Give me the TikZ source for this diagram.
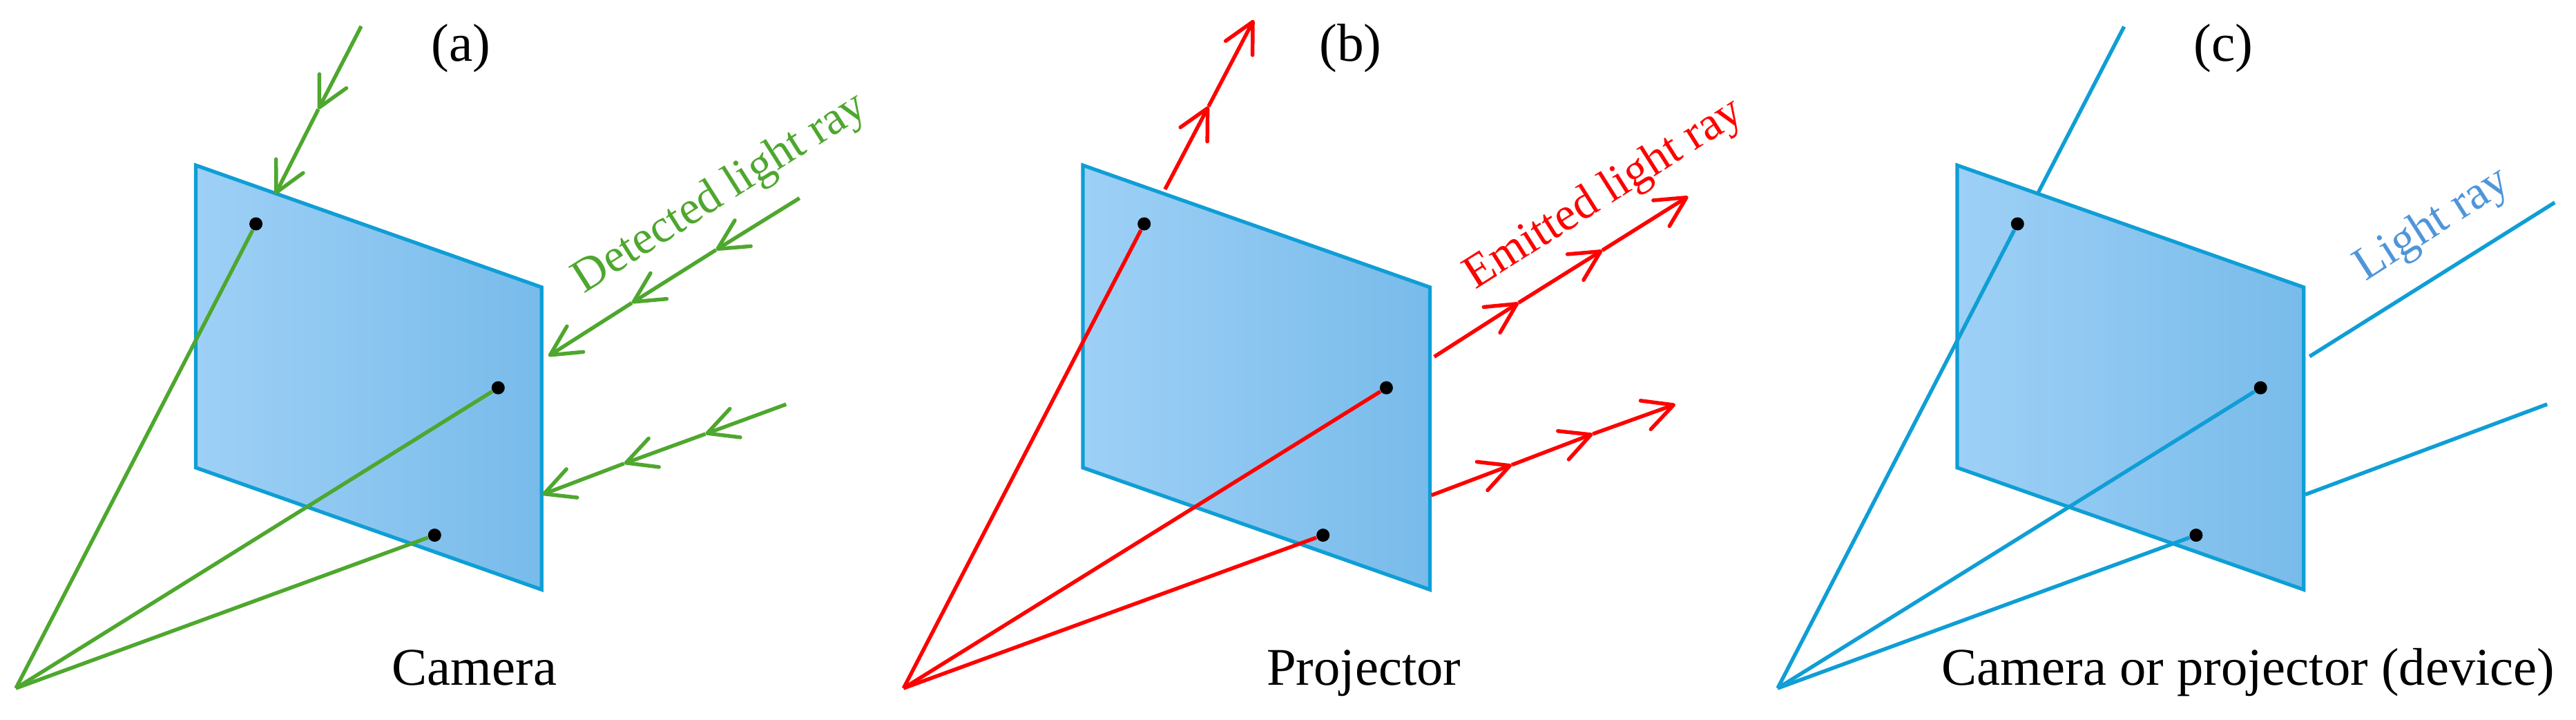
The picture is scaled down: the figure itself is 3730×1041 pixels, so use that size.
\documentclass[tikz,border=0pt]{standalone}
\usepackage{fontspec}
\setmainfont{Liberation Serif}
\usetikzlibrary{arrows.meta}
\definecolor{panelline}{HTML}{0F9ED5}
\definecolor{panelL}{HTML}{9ED0F6}
\definecolor{panelM}{HTML}{92C5EC}
\definecolor{panelR}{HTML}{78BBEA}
\definecolor{rayG}{HTML}{4EA72E}
\definecolor{rayR}{HTML}{FF0000}
\definecolor{labelB}{HTML}{4F95DA}
\tikzset{
  x=0.01cm,y=-0.01cm,
  panel/.style={draw=panelline,line width=1.5pt,line join=miter,left color=panelL,middle color=panelM,right color=panelR},
  ray/.style={line width=1.55pt},
  tipped/.style={-{Straight Barb[length=0.43cm,width=0.44cm,line width=1.55pt,round]}},
  dot/.style={circle,fill=black,inner sep=0pt,minimum size=0.19cm},
  txt/.style={font=\fontsize{21.8}{24}\selectfont,inner sep=0pt,text=black,anchor=base},
  tag/.style={font=\fontsize{22}{24}\selectfont,inner sep=0pt,text=black,anchor=base},
  raylabel/.style={font=\fontsize{19.4}{24}\selectfont,inner sep=0pt,anchor=base west},
}
\begin{document}
\begin{tikzpicture}
\useasboundingbox (0,0) rectangle (3730,1041);
% panel a
\path[panel] (283.6,239.2) -- (784.3,415.7) -- (784.3,853.3) -- (283.6,676.8) -- cycle;
\node[dot] (a1) at (370.6,324) {};
\node[dot] (a2) at (721.3,561.2) {};
\node[dot] (a3) at (629.3,774.5) {};
\coordinate (aO) at (23,996);
\draw[ray,rayG] (aO) -- (a1);
\draw[ray,rayG] (aO) -- (a2);
\draw[ray,rayG] (aO) -- (a3);
\coordinate (a1s) at (523.1,37.9);
\coordinate (a1m) at (461,158);
\coordinate (a1e) at (398.7,281.1);
\draw[ray,rayG,tipped] (a1s) -- (a1m);
\draw[ray,rayG,tipped] (a1m) -- (a1e);
\coordinate (a2s) at (1157.7,286.7);
\coordinate (a2m) at (1036.7,361.7);
\coordinate (a2n) at (915,438.3);
\coordinate (a2e) at (794.2,515.3);
\draw[ray,rayG,tipped] (a2s) -- (a2m);
\draw[ray,rayG,tipped] (a2m) -- (a2n);
\draw[ray,rayG,tipped] (a2n) -- (a2e);
\coordinate (a3s) at (1138.3,585.1);
\coordinate (a3m) at (1021.4,628);
\coordinate (a3n) at (903.7,670.8);
\coordinate (a3e) at (785.2,715.7);
\draw[ray,rayG,tipped] (a3s) -- (a3m);
\draw[ray,rayG,tipped] (a3m) -- (a3n);
\draw[ray,rayG,tipped] (a3n) -- (a3e);
\node[tag] (la) at (667.4,88) {(a)};
\node[txt] (ca) at (687,991) {Camera};
\node[raylabel,text=rayG,rotate=32.3] (ra) at (845,425.5) {Detected light ray};
% panel b
\path[panel] (1568,239.2) -- (2070.4,415.7) -- (2070.4,853.3) -- (1568,676.8) -- cycle;
\node[dot] (b1) at (1656.7,324) {};
\node[dot] (b2) at (2007.4,561.2) {};
\node[dot] (b3) at (1915.7,774.5) {};
\coordinate (bO) at (1308.3,996);
\draw[ray,rayR] (bO) -- (b1);
\draw[ray,rayR] (bO) -- (b2);
\draw[ray,rayR] (bO) -- (b3);
\coordinate (b1s) at (1686.9,274);
\coordinate (b1m) at (1749.9,154);
\coordinate (b1e) at (1815.3,29);
\draw[ray,rayR,tipped] (b1s) -- (b1m);
\draw[ray,rayR,tipped] (b1m) -- (b1e);
\coordinate (b2s) at (2076.7,516.3);
\coordinate (b2m) at (2198.7,438.2);
\coordinate (b2n) at (2320,362.3);
\coordinate (b2e) at (2444.3,284.3);
\draw[ray,rayR,tipped] (b2s) -- (b2m);
\draw[ray,rayR,tipped] (b2m) -- (b2n);
\draw[ray,rayR,tipped] (b2n) -- (b2e);
\coordinate (b3s) at (2072.7,716.7);
\coordinate (b3m) at (2189,672.8);
\coordinate (b3n) at (2306.3,628);
\coordinate (b3e) at (2425.9,585.1);
\draw[ray,rayR,tipped] (b3s) -- (b3m);
\draw[ray,rayR,tipped] (b3m) -- (b3n);
\draw[ray,rayR,tipped] (b3n) -- (b3e);
\node[tag] (lb) at (1955.6,88) {(b)};
\node[txt] (cb) at (1974.7,991) {Projector};
\node[raylabel,text=rayR,rotate=32.3] (rb) at (2136,419.5) {Emitted light ray};
% panel c
\path[panel] (2834,239.2) -- (3335.7,415.7) -- (3335.7,853.3) -- (2834,676.8) -- cycle;
\node[dot] (c1) at (2921.3,324) {};
\node[dot] (c2) at (3273.2,561.2) {};
\node[dot] (c3) at (3179.9,774.5) {};
\coordinate (cO) at (2574,996);
\draw[ray,panelline] (cO) -- (c1);
\draw[ray,panelline] (cO) -- (c2);
\draw[ray,panelline] (cO) -- (c3);
\coordinate (c1s) at (2950.6,280);
\coordinate (c1e) at (3075.6,38.5);
\draw[ray,panelline] (c1s) -- (c1e);
\coordinate (c2s) at (3344.2,515.8);
\coordinate (c2e) at (3699.2,293);
\draw[ray,panelline] (c2s) -- (c2e);
\coordinate (c3s) at (3338,715.7);
\coordinate (c3e) at (3688.2,585);
\draw[ray,panelline] (c3s) -- (c3e);
\node[tag] (lc) at (3219.5,88) {(c)};
\node[txt] (cc) at (3255.5,991) {Camera or projector (device)};
\node[raylabel,text=labelB,rotate=32.5] (rc) at (3424.5,407.5) {Light ray};
\end{tikzpicture}
\end{document}
